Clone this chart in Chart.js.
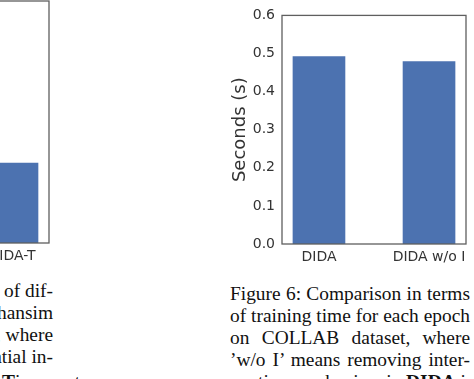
<!doctype html>
<html lang="en">
<head>
    <meta charset="utf-8">
    <title>Figure 6 - training time per epoch</title>
    <script src="https://cdn.jsdelivr.net/npm/chart.js"></script>
    <style>
        html, body { margin: 0; padding: 0; background: #fff; }
        body { width: 474px; height: 379px; position: relative; overflow: hidden; }
        canvas { position: absolute; }
        #leftChart { left: -100px; top: 0; }
        #rightChart { left: 220px; top: 0; }
        .cap {
            position: absolute;
            font-family: "Liberation Serif", "Times New Roman", serif;
            font-size: 19.4px;
            line-height: 22.2px;
            color: #111;
            white-space: nowrap;
        }
        .cap-r { left: 230px; top: 282.5px; width: 240px; }
        .cap-r div { text-align: justify; text-align-last: justify; }
        .cap-l { left: -347px; top: 279.8px; width: 400px; text-align: right; }
    </style>
</head>
<body>
    <canvas id="leftChart" width="160" height="270"></canvas>
    <canvas id="rightChart" width="254" height="270"></canvas>

    <div class="cap cap-l">
        <div>Figure 5: Comparison in terms of dif-</div>
        <div>ferent variants of the intervention mechansim</div>
        <div>on the dynamic graph datasets, where</div>
        <div>’w/o S’ means removing the spatial in-</div>
    </div>
    <div class="cap" style="left:2px; top:370.5px;"><b>T</b>ime cost</div>

    <div class="cap cap-r">
        <div>Figure 6: Comparison in terms</div>
        <div>of training time for each epoch</div>
        <div>on COLLAB dataset, where</div>
        <div>’w/o I’ means removing inter-</div>
        <div>vention mechanism in <b>DIDA</b> is</div>
    </div>

    <script>
        // right panel: seconds per epoch on COLLAB
        const categories = ['DIDA', 'DIDA w/o I'];
        const seconds = [0.492, 0.479];
        const yTicks = [0.0, 0.1, 0.2, 0.3, 0.4, 0.5, 0.6];

        // left panel (only its last bar is inside the crop)
        const leftCategories = ['DIDA-T'];
        const leftValues = [0.33];

        const barColor = '#4C72B0';
        const frameColor = '#5f5f5f';
        const tickColor = '#333333';

        Chart.defaults.font.family = '"DejaVu Sans", sans-serif';
        Chart.defaults.color = tickColor;

        const framePlugin = {
            id: 'frame',
            afterDraw(chart) {
                const a = chart.chartArea;
                const ctx = chart.ctx;
                ctx.save();
                ctx.strokeStyle = frameColor;
                ctx.lineWidth = 1.3;
                ctx.strokeRect(a.left, a.top, a.right - a.left, a.bottom - a.top);
                ctx.restore();
            }
        };

        function barChart(id, cats, vals, opts) {
            return new Chart(document.getElementById(id), {
                type: 'bar',
                data: {
                    datasets: [{
                        data: cats.map((c, i) => ({ x: i, y: vals[i] })),
                        backgroundColor: barColor,
                        borderWidth: 0,
                        barThickness: 52
                    }]
                },
                options: {
                    responsive: false,
                    animation: false,
                    events: [],
                    layout: { padding: opts.padding },
                    plugins: { legend: { display: false }, tooltip: { enabled: false } },
                    scales: {
                        x: {
                            type: 'linear',
                            offset: false,
                            min: -0.336,
                            max: cats.length - 1 + 0.336,
                            grid: { display: false, drawTicks: false, offset: false },
                            border: { display: false },
                            afterBuildTicks: s => { s.ticks = cats.map((c, i) => ({ value: i })); },
                            afterFit: s => { s.height = opts.xHeight; },
                            ticks: {
                                padding: 5,
                                autoSkip: false,
                                maxRotation: 0,
                                font: { size: 14 },
                                callback: v => cats[v]
                            }
                        },
                        y: {
                            min: 0,
                            max: opts.yMax,
                            grid: { display: false, drawTicks: false },
                            border: { display: false },
                            afterBuildTicks: opts.yTicks
                                ? s => { s.ticks = opts.yTicks.map(v => ({ value: v })); }
                                : undefined,
                            afterFit: s => { s.width = opts.yWidth; },
                            ticks: {
                                display: opts.showY,
                                padding: 7,
                                font: { size: 14 },
                                callback: v => v.toFixed(1)
                            },
                            title: {
                                display: opts.showY,
                                text: 'Seconds (s)',
                                font: { size: 18 },
                                padding: { top: 10, bottom: 0 }
                            }
                        }
                    }
                },
                plugins: [framePlugin]
            });
        }

        barChart('rightChart', categories, seconds, {
            padding: { top: 8, right: 8, left: 0, bottom: 0 },
            xHeight: 26, yWidth: 62, yMax: 0.6, yTicks: yTicks, showY: true
        });

        barChart('leftChart', leftCategories, leftValues, {
            padding: { top: 1, right: 11, left: 0, bottom: 0 },
            xHeight: 27, yWidth: 75, yMax: 1.0, yTicks: null, showY: false
        });
    </script>
</body>
</html>
